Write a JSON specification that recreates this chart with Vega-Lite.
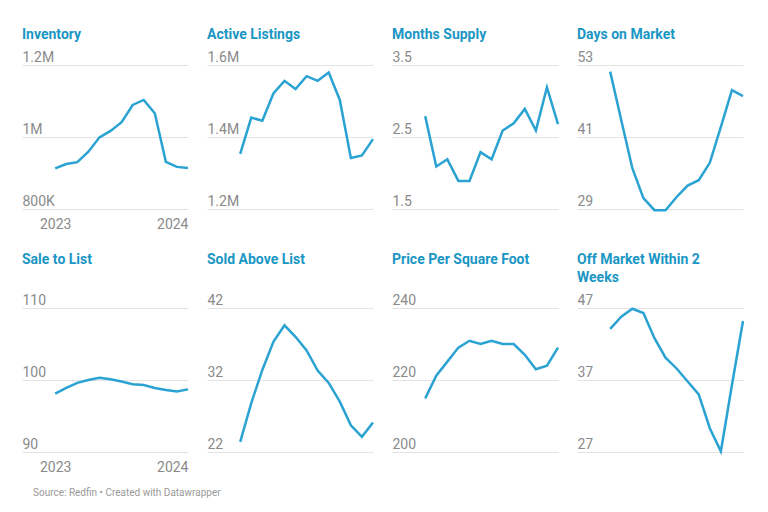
{
  "$schema": "https://vega.github.io/schema/vega-lite/v6.json",
  "padding": {"left": 22, "top": 28, "right": 10, "bottom": 10},
  "background": "white",
  "datasets": {
    "inventory": [
      {"m": 0, "v": 913000}, {"m": 1, "v": 925000}, {"m": 2, "v": 930000},
      {"m": 3, "v": 959000}, {"m": 4, "v": 999000}, {"m": 5, "v": 1017000},
      {"m": 6, "v": 1041000}, {"m": 7, "v": 1089000}, {"m": 8, "v": 1103000},
      {"m": 9, "v": 1066000}, {"m": 10, "v": 931000}, {"m": 11, "v": 917000},
      {"m": 12, "v": 914000}
    ],
    "listings": [
      {"m": 0, "v": 1353000}, {"m": 1, "v": 1454000}, {"m": 2, "v": 1445000},
      {"m": 3, "v": 1521000}, {"m": 4, "v": 1556000}, {"m": 5, "v": 1533000},
      {"m": 6, "v": 1569000}, {"m": 7, "v": 1556000}, {"m": 8, "v": 1579000},
      {"m": 9, "v": 1503000}, {"m": 10, "v": 1342000}, {"m": 11, "v": 1349000},
      {"m": 12, "v": 1394000}
    ],
    "supply": [
      {"m": 0, "v": 2.79}, {"m": 1, "v": 2.09}, {"m": 2, "v": 2.19},
      {"m": 3, "v": 1.89}, {"m": 4, "v": 1.89}, {"m": 5, "v": 2.29},
      {"m": 6, "v": 2.19}, {"m": 7, "v": 2.59}, {"m": 8, "v": 2.69},
      {"m": 9, "v": 2.89}, {"m": 10, "v": 2.59}, {"m": 11, "v": 3.19},
      {"m": 12, "v": 2.68}
    ],
    "days": [
      {"m": 0, "v": 51.9}, {"m": 1, "v": 43.8}, {"m": 2, "v": 35.8},
      {"m": 3, "v": 30.8}, {"m": 4, "v": 28.8}, {"m": 5, "v": 28.8},
      {"m": 6, "v": 31.0}, {"m": 7, "v": 32.9}, {"m": 8, "v": 33.8},
      {"m": 9, "v": 36.7}, {"m": 10, "v": 42.7}, {"m": 11, "v": 48.8},
      {"m": 12, "v": 47.8}
    ],
    "saletolist": [
      {"m": 0, "v": 98.1}, {"m": 1, "v": 98.9}, {"m": 2, "v": 99.6},
      {"m": 3, "v": 100.0}, {"m": 4, "v": 100.3}, {"m": 5, "v": 100.1},
      {"m": 6, "v": 99.8}, {"m": 7, "v": 99.4}, {"m": 8, "v": 99.3},
      {"m": 9, "v": 98.9}, {"m": 10, "v": 98.6}, {"m": 11, "v": 98.4},
      {"m": 12, "v": 98.7}
    ],
    "above": [
      {"m": 0, "v": 23.4}, {"m": 1, "v": 28.8}, {"m": 2, "v": 33.4},
      {"m": 3, "v": 37.3}, {"m": 4, "v": 39.6}, {"m": 5, "v": 38.0},
      {"m": 6, "v": 36.1}, {"m": 7, "v": 33.3}, {"m": 8, "v": 31.6},
      {"m": 9, "v": 29.0}, {"m": 10, "v": 25.7}, {"m": 11, "v": 24.1},
      {"m": 12, "v": 26.1}
    ],
    "ppsf": [
      {"m": 0, "v": 214.9}, {"m": 1, "v": 221.2}, {"m": 2, "v": 225.1},
      {"m": 3, "v": 229.0}, {"m": 4, "v": 230.9}, {"m": 5, "v": 230.0},
      {"m": 6, "v": 230.9}, {"m": 7, "v": 230.0}, {"m": 8, "v": 230.0},
      {"m": 9, "v": 227.0}, {"m": 10, "v": 223.0}, {"m": 11, "v": 224.0},
      {"m": 12, "v": 229.0}
    ],
    "offmarket": [
      {"m": 0, "v": 44.1}, {"m": 1, "v": 45.8}, {"m": 2, "v": 46.9},
      {"m": 3, "v": 46.3}, {"m": 4, "v": 42.8}, {"m": 5, "v": 40.1},
      {"m": 6, "v": 38.6}, {"m": 7, "v": 36.8}, {"m": 8, "v": 35.0},
      {"m": 9, "v": 30.3}, {"m": 10, "v": 27.1}, {"m": 11, "v": 36.3},
      {"m": 12, "v": 45.2}
    ]
  },
  "title": {
    "text": "Source: Redfin • Created with Datawrapper",
    "orient": "bottom",
    "anchor": "start",
    "frame": "bounds",
    "dx": 11,
    "offset": 14,
    "fontSize": 10,
    "fontWeight": "normal",
    "color": "#9a9a9a"
  },
  "columns": 4,
  "spacing": {"row": 22, "column": 14},
  "concat": [
    {
      "title": "Inventory",
      "width": 166, "height": 144,
      "data": {"name": "inventory"},
      "mark": {"type": "line", "color": "#2aa2d2", "strokeWidth": 2.5},
      "encoding": {
        "x": {"field": "m", "type": "quantitative", "scale": {"domain": [-3, 12]},
              "axis": {"values": [0, 12], "labelExpr": "datum.value == 0 ? '2023' : '2024'", "labelFlush": true, "labelPadding": 8, "grid": false}},
        "y": {"field": "v", "type": "quantitative", "scale": {"domain": [800000, 1200000], "nice": false, "zero": false},
              "axis": {"values": [800000, 1000000, 1200000], "labelExpr": "datum.value == 1200000 ? '1.2M' : datum.value == 1000000 ? '1M' : '800K'"}}
      }
    },
    {
      "title": "Active Listings",
      "width": 166, "height": 144,
      "data": {"name": "listings"},
      "mark": {"type": "line", "color": "#2aa2d2", "strokeWidth": 2.5},
      "encoding": {
        "x": {"field": "m", "type": "quantitative", "scale": {"domain": [-3, 12]}, "axis": null},
        "y": {"field": "v", "type": "quantitative", "scale": {"domain": [1200000, 1600000], "nice": false, "zero": false},
              "axis": {"values": [1200000, 1400000, 1600000], "labelExpr": "format(datum.value / 1000000, '.1f') + 'M'"}}
      }
    },
    {
      "title": "Months Supply",
      "width": 166, "height": 144,
      "data": {"name": "supply"},
      "mark": {"type": "line", "color": "#2aa2d2", "strokeWidth": 2.5},
      "encoding": {
        "x": {"field": "m", "type": "quantitative", "scale": {"domain": [-3, 12]}, "axis": null},
        "y": {"field": "v", "type": "quantitative", "scale": {"domain": [1.5, 3.5], "nice": false, "zero": false},
              "axis": {"values": [1.5, 2.5, 3.5], "format": ".1f"}}
      }
    },
    {
      "title": "Days on Market",
      "width": 166, "height": 144,
      "data": {"name": "days"},
      "mark": {"type": "line", "color": "#2aa2d2", "strokeWidth": 2.5},
      "encoding": {
        "x": {"field": "m", "type": "quantitative", "scale": {"domain": [-3, 12]}, "axis": null},
        "y": {"field": "v", "type": "quantitative", "scale": {"domain": [29, 53], "nice": false, "zero": false},
              "axis": {"values": [29, 41, 53], "format": "d"}}
      }
    },
    {
      "title": {"text": ["Sale to List", " "]},
      "width": 166, "height": 144,
      "data": {"name": "saletolist"},
      "mark": {"type": "line", "color": "#2aa2d2", "strokeWidth": 2.5},
      "encoding": {
        "x": {"field": "m", "type": "quantitative", "scale": {"domain": [-3, 12]},
              "axis": {"values": [0, 12], "labelExpr": "datum.value == 0 ? '2023' : '2024'", "labelFlush": true, "labelPadding": 8, "grid": false}},
        "y": {"field": "v", "type": "quantitative", "scale": {"domain": [90, 110], "nice": false, "zero": false},
              "axis": {"values": [90, 100, 110], "format": "d"}}
      }
    },
    {
      "title": {"text": ["Sold Above List", " "]},
      "width": 166, "height": 144,
      "data": {"name": "above"},
      "mark": {"type": "line", "color": "#2aa2d2", "strokeWidth": 2.5},
      "encoding": {
        "x": {"field": "m", "type": "quantitative", "scale": {"domain": [-3, 12]}, "axis": null},
        "y": {"field": "v", "type": "quantitative", "scale": {"domain": [22, 42], "nice": false, "zero": false},
              "axis": {"values": [22, 32, 42], "format": "d"}}
      }
    },
    {
      "title": {"text": ["Price Per Square Foot", " "]},
      "width": 166, "height": 144,
      "data": {"name": "ppsf"},
      "mark": {"type": "line", "color": "#2aa2d2", "strokeWidth": 2.5},
      "encoding": {
        "x": {"field": "m", "type": "quantitative", "scale": {"domain": [-3, 12]}, "axis": null},
        "y": {"field": "v", "type": "quantitative", "scale": {"domain": [200, 240], "nice": false, "zero": false},
              "axis": {"values": [200, 220, 240], "format": "d"}}
      }
    },
    {
      "title": {"text": ["Off Market Within 2", "Weeks"]},
      "width": 166, "height": 144,
      "data": {"name": "offmarket"},
      "mark": {"type": "line", "color": "#2aa2d2", "strokeWidth": 2.5},
      "encoding": {
        "x": {"field": "m", "type": "quantitative", "scale": {"domain": [-3, 12]}, "axis": null},
        "y": {"field": "v", "type": "quantitative", "scale": {"domain": [27, 47], "nice": false, "zero": false},
              "axis": {"values": [27, 37, 47], "format": "d"}}
      }
    }
  ],
  "config": {
    "font": "Roboto",
    "view": {"stroke": null},
    "title": {"anchor": "start", "font": "Roboto", "fontSize": 14, "fontWeight": "bold", "color": "#1a96c4", "offset": 8, "lineHeight": 18},
    "axis": {"domain": false, "ticks": false, "tickSize": 0, "title": null, "labelFont": "Roboto", "labelFontSize": 14, "labelColor": "#8a8a8a", "gridColor": "#e3e3e3", "gridWidth": 1},
    "axisY": {"labelAlign": "left", "labelBaseline": "alphabetic", "labelPadding": 0, "labelOffset": -4, "grid": true}
  }
}
